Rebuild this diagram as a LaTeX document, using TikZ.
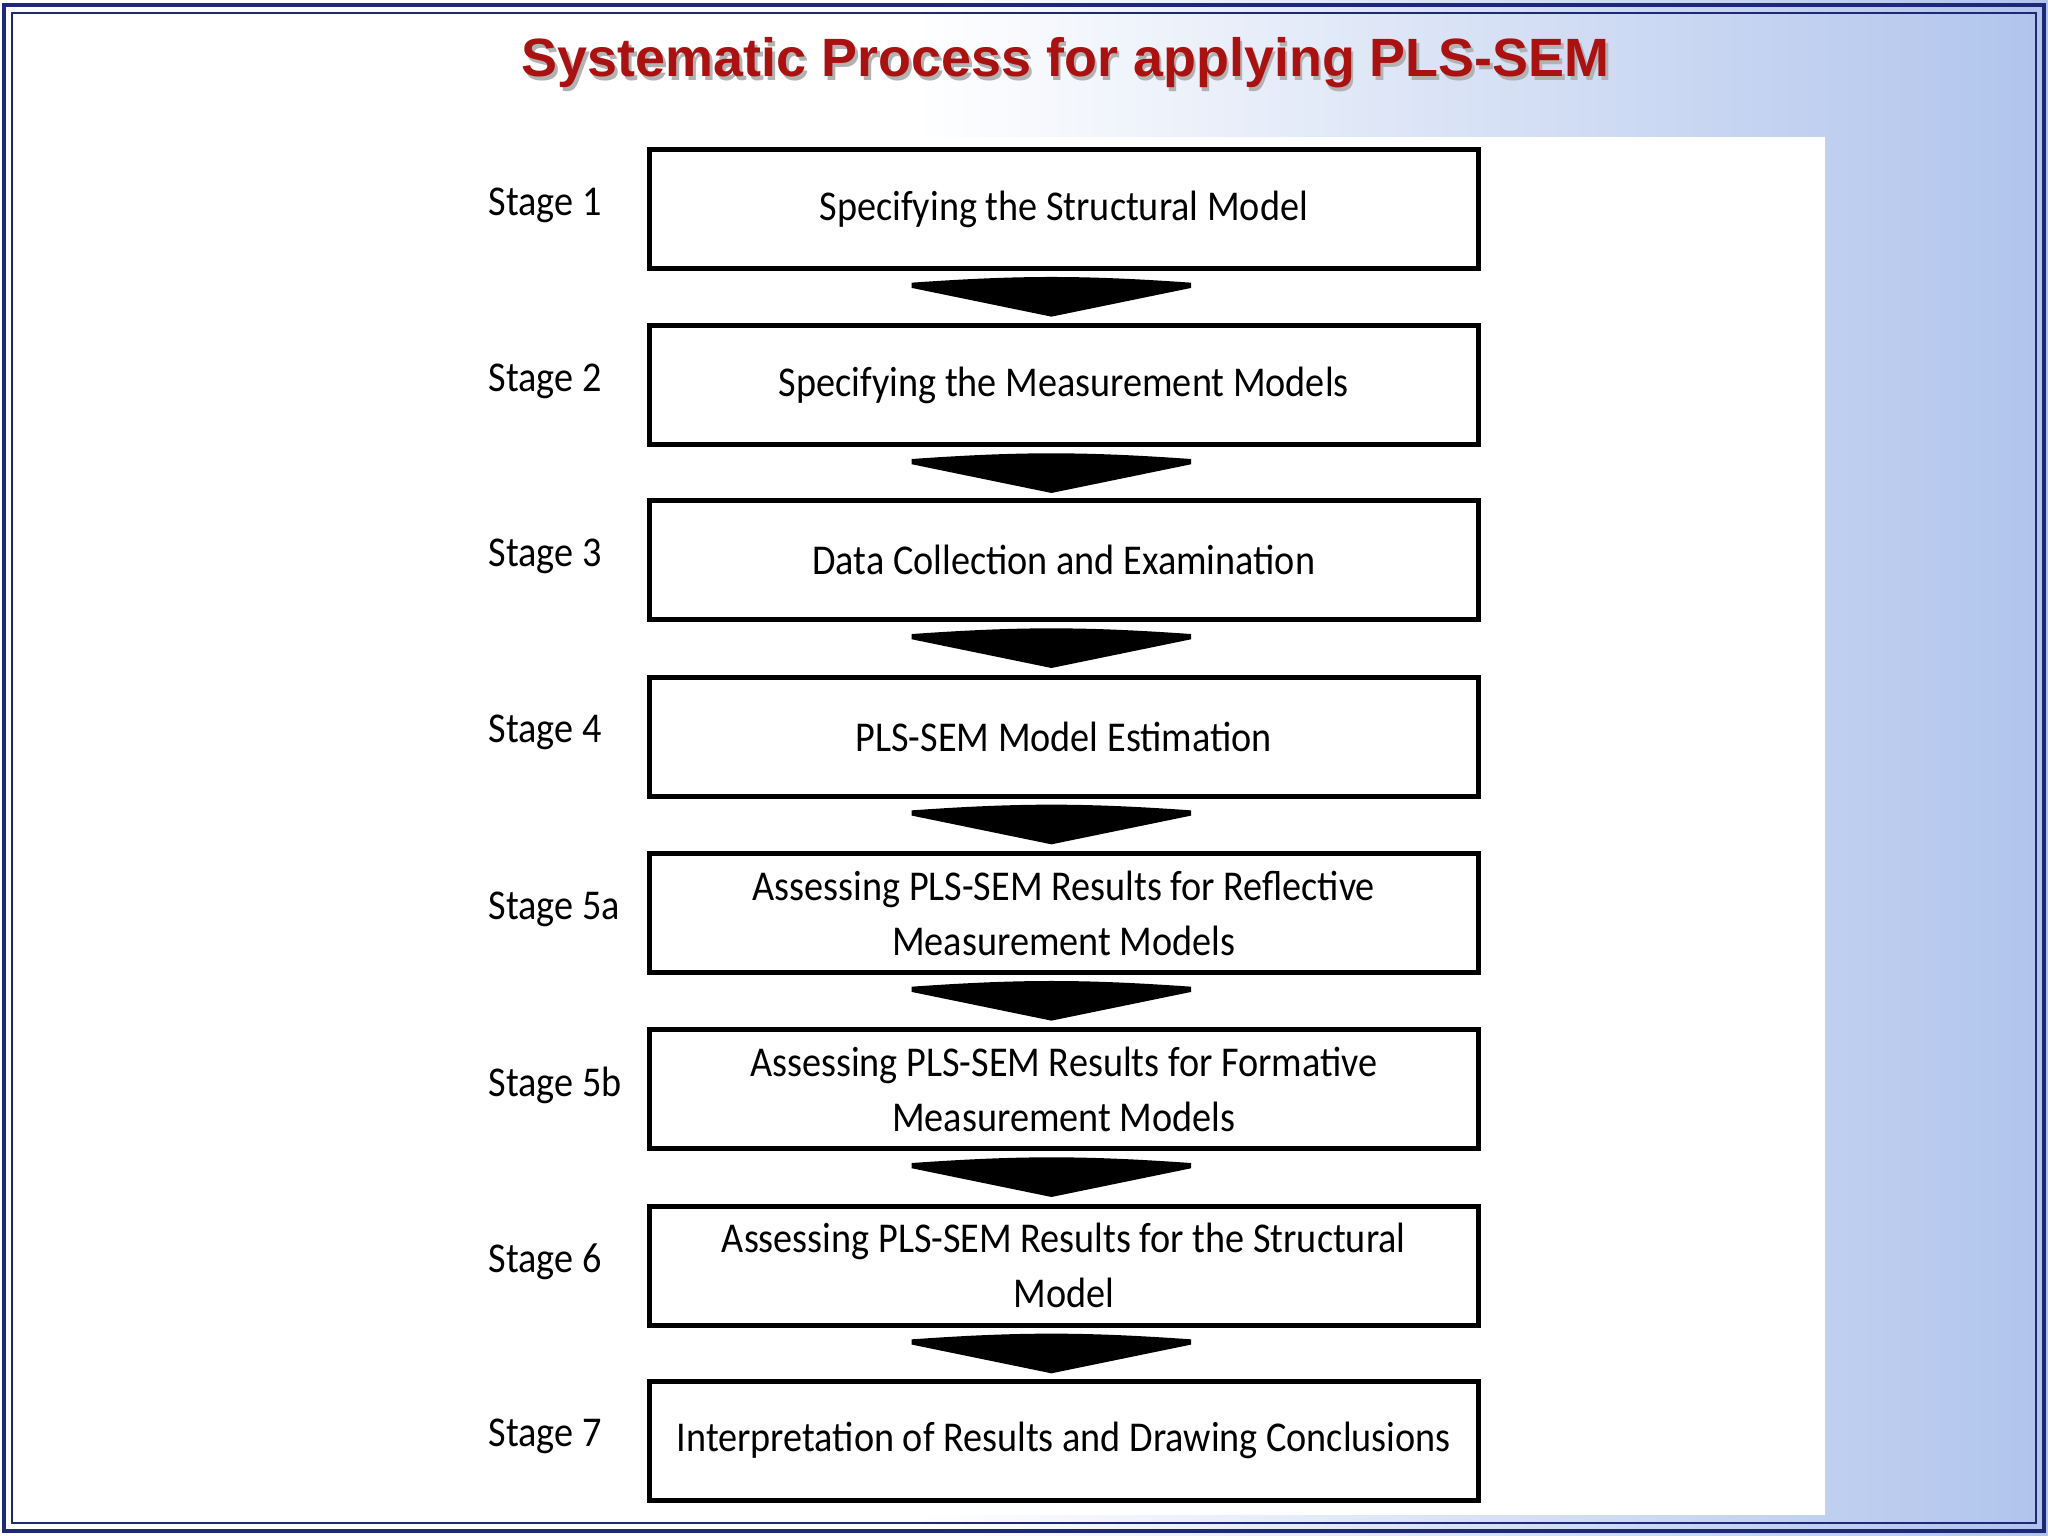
\documentclass[tikz,border=0pt]{standalone}
\usepackage{fontspec}
\setmainfont{Carlito}[FakeStretch=0.9]
\newfontfamily\titlefont{Liberation Sans}
\begin{document}
\begin{tikzpicture}[x=0.02cm,y=-0.02cm,
  stagebox/.style={draw=black,line width=2.2pt,fill=white,minimum width=635*0.02cm,minimum height=91*0.02cm,align=center,font=\fontsize{18.5}{24}\selectfont,inner sep=0pt},
  stagelbl/.style={anchor=west,font=\fontsize{18.5}{24}\selectfont},
  chev/.style={fill=black}]
\useasboundingbox (0,0) rectangle (1568,1176);
\fill[white] (0,0) rectangle (700,1176);
\shade[left color=white,right color={rgb,255:red,176;green,196;blue,236}] (700,0) rectangle (1568,1176);
\fill[white] (170,105) rectangle (1397,1160);
\draw[line width=1.6pt,draw={rgb,255:red,30;green,40;blue,120}] (3,4) rectangle (1565,1172);
\draw[line width=0.8pt,draw={rgb,255:red,30;green,40;blue,120}] (9,10) rectangle (1559,1166);
\node[font=\titlefont\bfseries\fontsize{23.5}{28}\selectfont,text=gray!60] (shadow) at (818,51) {Systematic Process for applying PLS-SEM};
\node[font=\titlefont\bfseries\fontsize{23.5}{28}\selectfont,text={rgb,255:red,170;green,18;blue,18}] (title) at (816,48) {Systematic Process for applying PLS-SEM};
\foreach \n/\y/\lbl/\txt in {
  s1/160/Stage 1/Specifying the Structural Model,
  s2/295/Stage 2/Specifying the Measurement Models,
  s3/429/Stage 3/Data Collection and Examination,
  s4/564/Stage 4/PLS-SEM Model Estimation,
  s5a/699/Stage 5a/Assessing PLS-SEM Results for Reflective\\Measurement Models,
  s5b/834/Stage 5b/Assessing PLS-SEM Results for Formative\\Measurement Models,
  s6/969/Stage 6/Assessing PLS-SEM Results for the Structural\\Model,
  s7/1103/Stage 7/Interpretation of Results and Drawing Conclusions}{
  \node[stagebox] (\n) at (814.5,\y) {\txt};
  \node[stagelbl] (l\n) at (368,\y-3) {\lbl};
}
\foreach \a/\b in {s1/s2,s2/s3,s3/s4,s4/s5a,s5a/s5b,s5b/s6,s6/s7}{
  \path (\a.south) ++(-9.5,9) coordinate (t\a);
  \fill[chev] ([xshift=-107*0.02cm]t\a) to[bend left=4] ([xshift=107*0.02cm]t\a) -- ++(0,4) -- ([yshift=-26*0.02cm]t\a) -- ([xshift=-107*0.02cm,yshift=-4*0.02cm]t\a) -- cycle;
}
\end{tikzpicture}
\end{document}
